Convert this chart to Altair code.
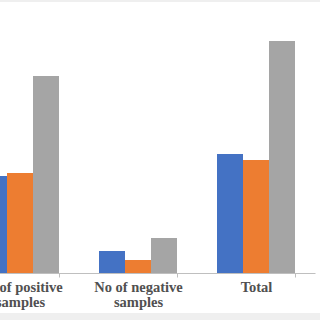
import altair as alt
import pandas as pd

categories = ["No of positive|samples", "No of negative|samples", "Total"]
series = ["Series 1", "Series 2", "Series 3"]
series1 = [97, 22, 119]
series2 = [100, 13, 113]
series3 = [197, 35, 232]
colors = ["#4472C4", "#ED7D31", "#A5A5A5"]

rows = []
for vals, name in zip([series1, series2, series3], series):
    for cat, v in zip(categories, vals):
        rows.append({"category": cat, "series": name, "value": v})
df = pd.DataFrame(rows)

chart = (
    alt.Chart(df)
    .mark_bar()
    .encode(
        x=alt.X(
            "category:N",
            sort=categories,
            scale=alt.Scale(range=[-39, 315], paddingInner=0.339, paddingOuter=0.1695),
            axis=alt.Axis(
                title=None,
                labelAngle=0,
                labelExpr="split(datum.label, '|')",
                labelFont="Liberation Serif",
                labelFontWeight="bold",
                labelFontSize=14.5,
                labelColor="#505050",
                labelLineHeight=15.5,
                labelPadding=3,
                tickBand="extent",
                tickSize=4,
                tickColor="#bfbfbf",
                domainColor="#bfbfbf",
                offset=-40,
                labelOverlap=False,
            ),
        ),
        xOffset=alt.XOffset("series:N", sort=series, scale=alt.Scale(paddingInner=0, paddingOuter=0)),
        y=alt.Y("value:Q", scale=alt.Scale(domain=[0, 271], range=[271, 0], nice=False), axis=None),
        color=alt.Color("series:N", sort=series, scale=alt.Scale(domain=series, range=colors), legend=None),
    )
    .properties(
        width=320,
        height=311,
        autosize=alt.AutoSizeParams(type="none"),
        padding={"left": 0, "right": 0, "top": 2, "bottom": 7},
        background="#efefef",
    )
    .configure_view(fill="white", stroke=None)
)

chart.save("out.html", embed_options={"renderer": "svg", "actions": False})
